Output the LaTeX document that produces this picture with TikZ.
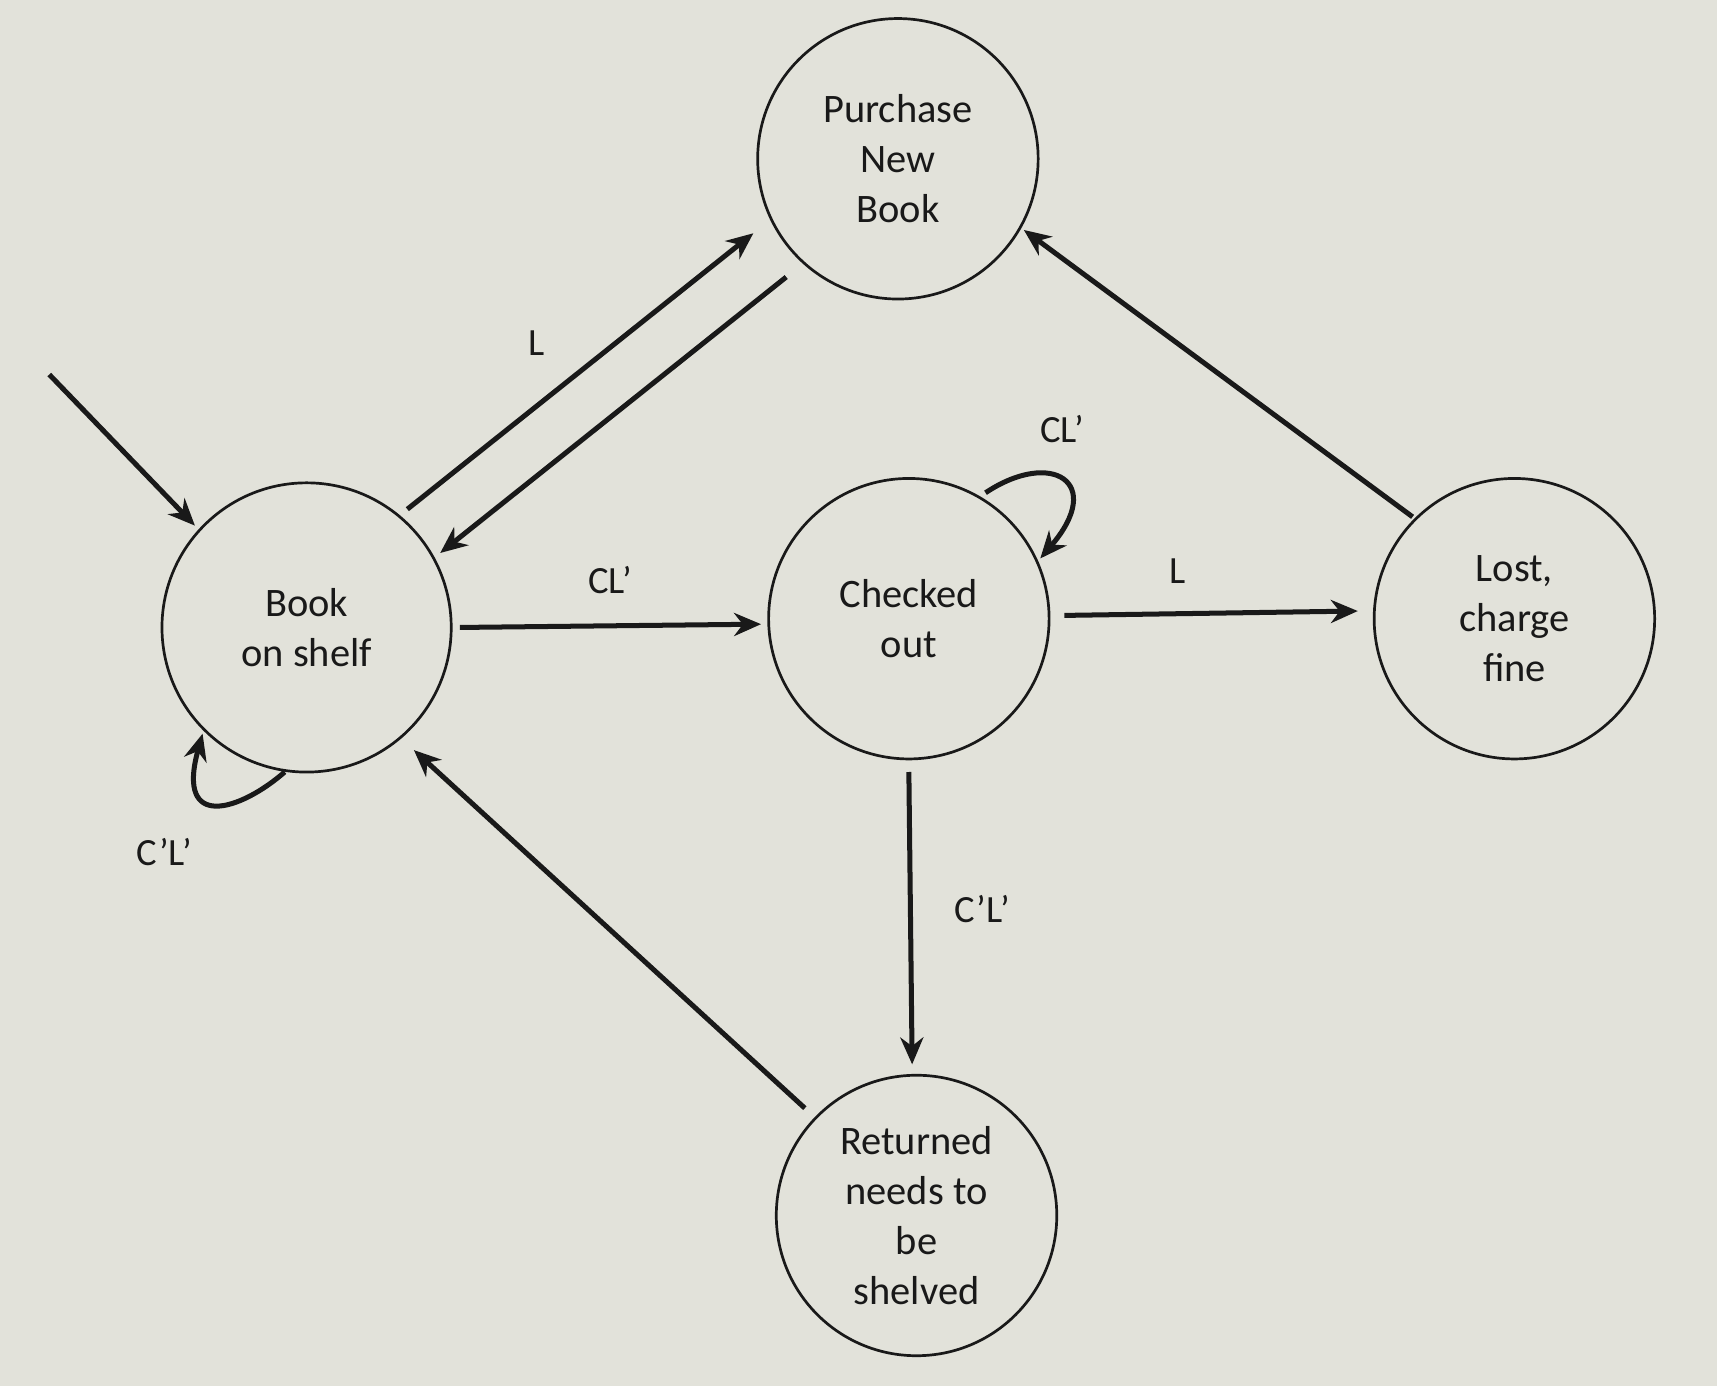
\documentclass[tikz,border=0pt]{standalone}
\usepackage{fontspec}
\setmainfont{Carlito}
\usetikzlibrary{arrows.meta}
\definecolor{bg}{RGB}{226,226,218}
\definecolor{ink}{RGB}{25,25,25}
\begin{document}
\begin{tikzpicture}[x=0.01cm,y=-0.01cm,
  state/.style={circle,draw=ink,line width=0.7pt,minimum size=2.56cm,align=center,font=\fontsize{10.5}{13}\selectfont,text=ink},
  arr/.style={line width=1.3pt,draw=ink,-{Stealth[length=7pt,width=6pt]}},
  lbl/.style={font=\fontsize{10}{12}\selectfont,text=ink}]
\fill[bg] (0,0) rectangle (1568,1266);
\useasboundingbox (0,0) rectangle (1568,1266);
\node[state] (p) at (820,145) {Purchase\\New\\Book};
\node[state,minimum size=2.64cm] (b) at (280,573) {Book\\on shelf};
\node[state] (c) at (830,565) {Checked\\out};
\node[state] (l) at (1383,565) {Lost,\\charge\\fine};
\node[state] (r) at (837,1110) {Returned\\needs to\\be\\shelved};
\coordinate (i0) at (45,342); \coordinate (i1) at (178,480);
\coordinate (bp0) at (372,465); \coordinate (bp1) at (688,213);
\coordinate (pb0) at (718,253); \coordinate (pb1) at (402,505);
\coordinate (bc0) at (420,573); \coordinate (bc1) at (695,570);
\coordinate (cl0) at (972,562); \coordinate (cl1) at (1240,558);
\coordinate (lp0) at (1290,472); \coordinate (lp1) at (935,210);
\coordinate (cr0) at (830,705); \coordinate (cr1) at (833,972);
\coordinate (rb0) at (735,1012); \coordinate (rb1) at (378,685);
\coordinate (cs0) at (900,450); \coordinate (cs1) at (950,510);
\coordinate (bs0) at (260,705); \coordinate (bs1) at (185,670);
\draw[arr] (i0) -- (i1);
\draw[arr] (bp0) -- (bp1);
\draw[arr] (pb0) -- (pb1);
\draw[arr] (bc0) -- (bc1);
\draw[arr] (cl0) -- (cl1);
\draw[arr] (lp0) -- (lp1);
\draw[arr] (cr0) -- (cr1);
\draw[arr] (rb0) -- (rb1);
\draw[arr] (cs0) .. controls (960,410) and (1010,440) .. (cs1);
\draw[arr] (bs0) .. controls (220,740) and (160,760) .. (bs1);
\node[lbl] (t1) at (490,313) {L};
\node[lbl] (t2) at (557,530) {CL’};
\node[lbl] (t3) at (1075,522) {L};
\node[lbl] (t4) at (897,830) {C’L’};
\node[lbl] (t5) at (970,392) {CL’};
\node[lbl] (t6) at (150,778) {C’L’};
\end{tikzpicture}
\end{document}
